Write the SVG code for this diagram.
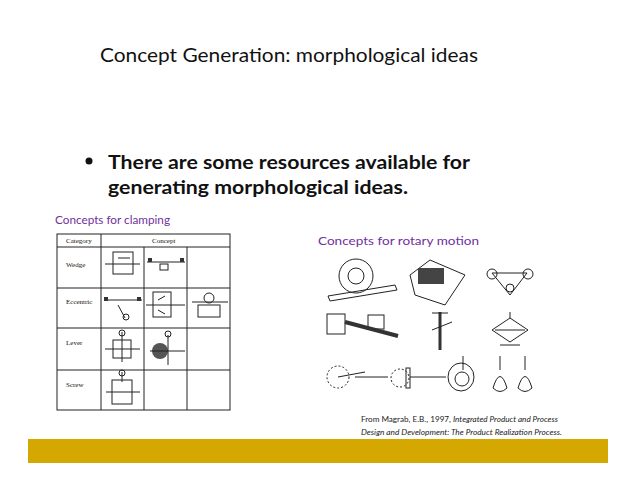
<svg xmlns="http://www.w3.org/2000/svg" width="638" height="493" viewBox="0 0 638 493">
<style>
.t{font-family:Lato,"Liberation Sans",Arial,sans-serif}
.p{fill:#7030A0;font-size:12px}
.g{fill:none;stroke:#222;stroke-width:1}
.s{font-family:"Liberation Serif",serif;font-size:7px;fill:#111}
.k{fill:#333}
</style>
<rect width="638" height="493" fill="#fff"/>
<text class="t" x="100" y="62" font-size="19" fill="#111" textLength="378" lengthAdjust="spacingAndGlyphs">Concept Generation: morphological ideas</text>
<circle cx="89" cy="161" r="3.5" fill="#111"/>
<text class="t" x="108" y="169" font-size="19" font-weight="bold" fill="#111" textLength="362" lengthAdjust="spacingAndGlyphs">There are some resources available for</text>
<text class="t" x="108" y="194" font-size="19" font-weight="bold" fill="#111" textLength="300" lengthAdjust="spacingAndGlyphs">generating morphological ideas.</text>
<text class="t p" x="55" y="224" textLength="115" lengthAdjust="spacingAndGlyphs">Concepts for clamping</text>
<text class="t p" x="318" y="245" textLength="161" lengthAdjust="spacingAndGlyphs">Concepts for rotary motion</text>
<g id="table">
<rect x="57" y="234" width="173" height="176" class="g"/>
<path class="g" d="M57 247H230M57 288H230M57 328H230M57 370H230M101 234V410M144 247V410M187 247V410"/>
<text class="s" x="66" y="243">Category</text><text class="s" x="152" y="243">Concept</text>
<text class="s" x="66" y="267">Wedge</text><text class="s" x="66" y="304">Eccentric</text>
<text class="s" x="66" y="345">Lever</text><text class="s" x="66" y="387">Screw</text>
<rect x="113" y="252" width="20" height="22" class="g"/><path class="g" d="M105 264H140M118 258L130 258M147 262H185"/>
<rect x="148" y="258" width="4" height="4" class="k"/><rect x="180" y="258" width="4" height="4" class="k"/><rect x="160" y="264" width="8" height="6" class="g"/>
<path class="g" d="M104 300H142M118 305L125 318"/><circle cx="126" cy="317" r="3" class="g"/>
<rect x="104" y="297" width="4" height="4" class="k"/><rect x="137" y="297" width="4" height="4" class="k"/>
<rect x="153" y="292" width="18" height="25" class="g"/><path class="g" d="M146 305H185M158 300L165 296M158 310L165 314"/>
<rect x="198" y="305" width="22" height="12" class="g" fill="#999"/><circle cx="209" cy="298" r="5" class="g"/><path class="g" d="M192 302H228"/>
<rect x="113" y="340" width="18" height="18" class="g"/><path class="g" d="M122 332V362M105 349H140"/><circle cx="122" cy="333" r="3" class="g"/>
<circle cx="160" cy="351" r="8" fill="#555"/><path class="g" d="M168 335V365M150 351H185"/><circle cx="168" cy="334" r="3" class="g"/>
<rect x="112" y="380" width="20" height="24" class="g" fill="#999"/><path class="g" d="M106 392H140M122 372V382"/><circle cx="122" cy="373" r="3" class="g"/>
</g>
<g id="rotary">
<circle cx="356" cy="276" r="17" class="g" stroke-width="3"/><circle cx="356" cy="276" r="8" class="g"/>
<path class="g" d="M328 296L395 285L397 290L330 301Z"/>
<path class="g" d="M410 275L430 260L465 275L445 305L415 295Z"/>
<rect x="418" y="268" width="26" height="16" fill="#444"/>
<path class="g" d="M492 273H527L510 295Z"/><circle cx="492" cy="274" r="5" class="g"/><circle cx="528" cy="274" r="5" class="g"/><circle cx="510" cy="288" r="4" class="g"/>
<rect x="327" y="314" width="18" height="20" class="g"/><rect x="368" y="315" width="16" height="14" class="g"/>
<path d="M345 322L398 336" stroke="#333" stroke-width="4"/>
<path d="M440 312V350" stroke="#333" stroke-width="3"/><path class="g" d="M432 313H448M432 330L452 322"/>
<path class="g" d="M510 318L528 330L510 342L492 330Z M495 330H525 M510 312V318 M500 345H520"/>
<circle cx="338" cy="377" r="11" class="g" stroke-dasharray="2 2"/><path class="g" d="M338 377L365 372M355 377H388"/>
<circle cx="400" cy="378" r="9" class="g" stroke-dasharray="2 2"/><rect x="406" y="368" width="4" height="20" class="g"/><path class="g" d="M410 377H446"/>
<ellipse cx="461" cy="377" rx="13" ry="14" class="g"/><ellipse cx="462" cy="379" rx="7" ry="7" class="g"/><path class="g" d="M463 356V370"/>
<path class="g" d="M500 356V370 M493 388Q500 365 507 388Q500 395 493 388 M525 356V370 M518 388Q525 365 532 388Q525 395 518 388"/>
</g>
<text class="t" x="361" y="422" font-size="7.5" fill="#222" textLength="197" lengthAdjust="spacingAndGlyphs">From Magrab, E.B., 1997, <tspan font-style="italic">Integrated Product and Process</tspan></text>
<text class="t" x="361" y="435" font-size="7.5" fill="#222" font-style="italic" textLength="201" lengthAdjust="spacingAndGlyphs">Design and Development: The Product Realization Process.</text>
<rect x="28" y="439" width="580" height="24" fill="#D4A800"/>
</svg>
